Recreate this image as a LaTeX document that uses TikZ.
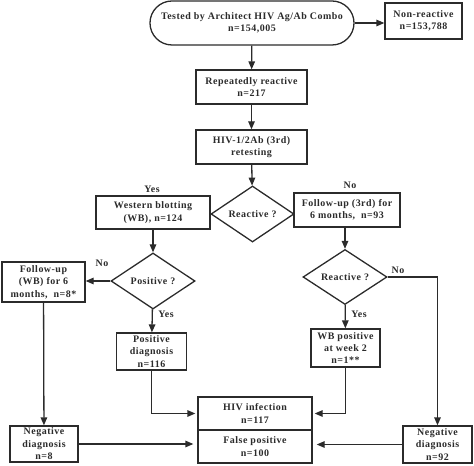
\documentclass[tikz,border=0pt]{standalone}
\usepackage{fontspec}
\setmainfont[LetterSpace=5]{Liberation Serif}
\usetikzlibrary{arrows.meta, shapes.geometric, shapes.misc}
\definecolor{ink}{HTML}{2B2B2B}
\tikzset{
  font=\bfseries\fontsize{10}{12.5}\selectfont,
  >={Triangle[length=8bp, width=6.5bp]},
  %
  box/.style={draw=ink, line width=1.3pt, align=center, text=ink,
              inner sep=2pt},
  pill/.style={box, rounded rectangle},
  dec/.style={box, diamond, inner sep=0pt},
  %
  flow/.style={draw=ink, line width=1.3pt, ->},
  lbl/.style={text=ink, inner sep=1pt},
}
\begin{document}
\begin{tikzpicture}[x=1bp, y=-1bp]
\useasboundingbox (0,0) rectangle (474,466);

% screening
\node[pill, minimum width=208bp, minimum height=44bp] (test) at (252,23)
  {Tested by Architect HIV Ag/Ab Combo\\n=154,005};
\node[box, minimum width=77bp, minimum height=36bp] (nonr) at (423.5,21)
  {Non-reactive\\n=153,788};
\node[box, minimum width=111bp, minimum height=34bp] (rep) at (251.5,87)
  {Repeatedly reactive\\n=217};
\node[box, minimum width=111bp, minimum height=34bp] (retest) at (251.5,147)
  {HIV-1/2Ab (3rd)\\retesting};

% first decision
\node[dec, minimum width=83bp, minimum height=56bp] (react) at (252.5,214)
  {Reactive ?};
\node[box, minimum width=114bp, minimum height=33bp] (wb) at (153,212.5)
  {Western blotting\\(WB), n=124};
\node[box, minimum width=106bp, minimum height=34bp] (fu3) at (347,210)
  {Follow-up (3rd) for\\6 months,~~n=93};
\node[lbl] (yes1) at (152,189) {Yes};
\node[lbl] (no1) at (350,185) {No};

% left branch
\node[dec, minimum width=84bp, minimum height=56bp] (pos) at (153,281)
  {Positive ?};
\node[box, minimum width=83bp, minimum height=40bp] (fuwb) at (43.5,282)
  {Follow-up\\(WB) for 6\\months,~~n=8*};
\node[box, minimum width=70bp, minimum height=37bp] (posd) at (151.5,351.5)
  {Positive\\diagnosis\\n=116};
\node[box, minimum width=68bp, minimum height=36bp] (negl) at (44,444)
  {Negative\\diagnosis\\n=8};
\node[lbl] (no2) at (102,263) {No};
\node[lbl] (yes2) at (166,314) {Yes};

% right branch
\node[dec, minimum width=84bp, minimum height=54bp] (react2) at (345,277)
  {Reactive ?};
\node[box, minimum width=69bp, minimum height=38bp] (wbpos) at (345.5,348)
  {WB positive\\at week 2\\n=1**};
\node[box, minimum width=69bp, minimum height=37bp] (negr) at (437.5,444.5)
  {Negative\\diagnosis\\n=92};
\node[lbl] (no3) at (398,270) {No};
\node[lbl] (yes3) at (359,314) {Yes};

% outcome
\node[box, minimum width=114bp, minimum height=33bp] (hiv) at (255,413.5)
  {HIV infection\\n=117};
\node[box, minimum width=114bp, minimum height=33bp] (fp) at (255,446.5)
  {False positive\\n=100};

\draw[flow] (test) -- (rep);
\draw[flow] (test.east) -- (test.east -| nonr.west);
\draw[flow] (rep) -- (retest);
\draw[flow] (retest) -- (react);
\draw[flow] (wb) -- (pos);
\draw[flow] (fu3.south -| react2) -- (react2);
\draw[flow] (pos.west) -- (pos.west -| fuwb.east);
\draw[flow] (pos) -- (posd);
\draw[flow] (fuwb) -- (negl);
\draw[flow] (react2) -- (wbpos);
\draw[flow] (react2.east) -| (negr.north);
\draw[flow, shorten >=2bp] (posd.south) |- (hiv.west);
\draw[flow, shorten >=2bp] (wbpos.south) |- (hiv.east);
\draw[flow, shorten >=4bp] (negl.east) -- (negl.east -| fp.west);
\draw[flow, shorten >=4bp] (negr.west) -- (negr.west -| fp.east);

\end{tikzpicture}
\end{document}
